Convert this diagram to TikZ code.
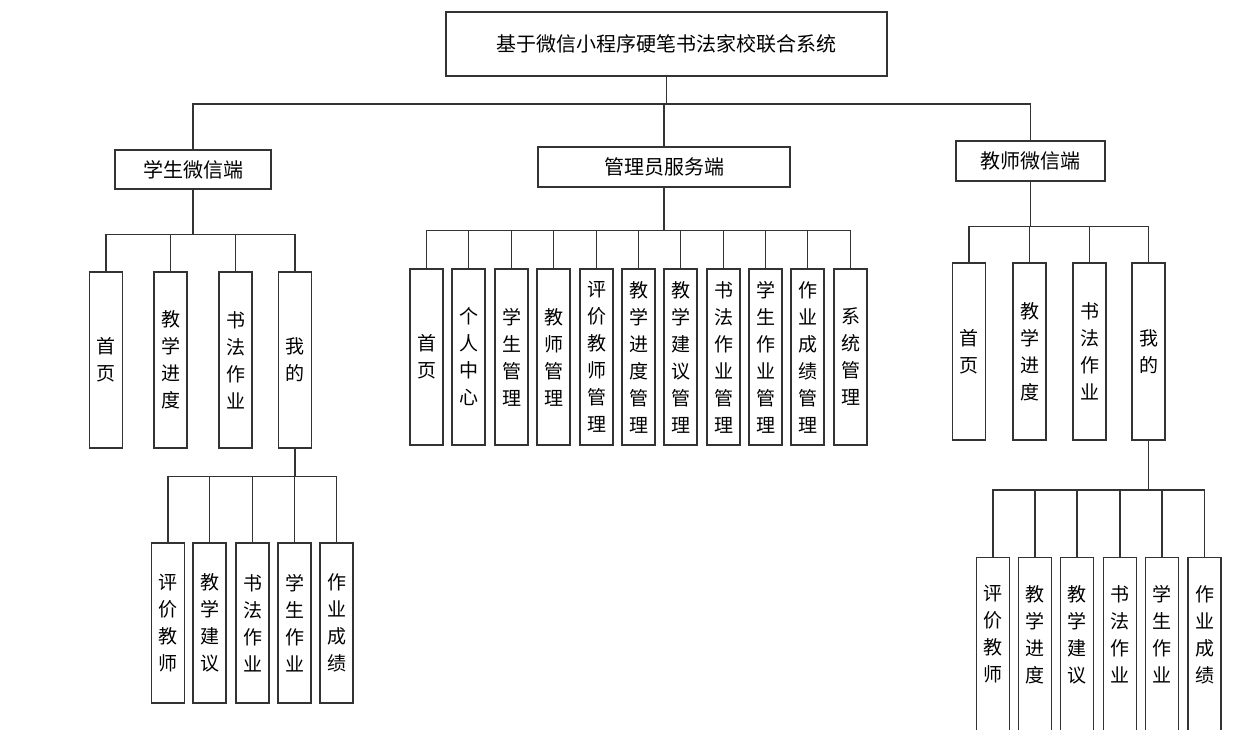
\documentclass[tikz,border=0pt]{standalone}
\usepackage{fontspec}
\setmainfont{Noto Sans CJK SC}
\begin{document}
\begin{tikzpicture}[x=1pt,y=-1pt,
  hbox/.style={draw=black!80,line width=1.1pt,inner sep=0pt,font=\fontsize{20}{24}\selectfont},
  vbox/.style={draw=black!80,line width=1.1pt,inner sep=0pt,minimum width=33pt,align=center,font=\fontsize{19}{27}\selectfont},
  conn/.style={draw=black!80,line width=1.1pt}]
\fill[white] (0,0) rectangle (1234,729);
\clip (0,0) rectangle (1234,729);
\node[hbox,minimum width=441pt,minimum height=64pt] (root) at (666.5,44) {基于微信小程序硬笔书法家校联合系统};
\node[hbox,minimum width=156pt,minimum height=39pt] (stu) at (193,169.5) {学生微信端};
\node[hbox,minimum width=252pt,minimum height=40pt] (adm) at (664,167) {管理员服务端};
\node[hbox,minimum width=149pt,minimum height=40pt] (tea) at (1030.5,161) {教师微信端};
\coordinate (bus) at (0,104);
\foreach \c in {stu,adm,tea} \draw[conn] (root.south) |- (\c.north |- bus) -- (\c.north);
% student
\foreach \n/\x/\t in {s1/106/首\\页, s2/170.5/教\\学\\进\\度, s3/235.5/书\\法\\作\\业, s4/295/我\\的}
  \node[vbox,minimum height=176pt] (\n) at (\x,360) {\t};
\foreach \n in {s1,s2,s3,s4} \draw[conn] (stu.south) |- ([yshift=37]\n.north) -- (\n.north);
\foreach \n/\x/\t in {m1/168/评\\价\\教\\师, m2/209.5/教\\学\\建\\议, m3/252.5/书\\法\\作\\业, m4/294.5/学\\生\\作\\业, m5/336.5/作\\业\\成\\绩}
  \node[vbox,minimum height=160pt] (\n) at (\x,623) {\t};
\foreach \n in {m1,m2,m3,m4,m5} \draw[conn] (s4.south) |- ([yshift=66]\n.north) -- (\n.north);
% admin
\foreach \n/\x/\t in {a1/426.5/首\\页, a2/468.5/个\\人\\中\\心, a3/511.5/学\\生\\管\\理, a4/553.5/教\\师\\管\\理, a5/596.5/评\\价\\教\\师\\管\\理, a6/638.5/教\\学\\进\\度\\管\\理, a7/680.5/教\\学\\建\\议\\管\\理, a8/723.5/书\\法\\作\\业\\管\\理, a9/765.5/学\\生\\作\\业\\管\\理, a10/807.5/作\\业\\成\\绩\\管\\理, a11/850.5/系\\统\\管\\理}
  \node[vbox,minimum height=176pt] (\n) at (\x,357) {\t};
\foreach \n in {a1,a2,a3,a4,a5,a6,a7,a8,a9,a10,a11} \draw[conn] (adm.south) |- ([yshift=38]\n.north) -- (\n.north);
% teacher
\foreach \n/\x/\t in {t1/969/首\\页, t2/1029.5/教\\学\\进\\度, t3/1089.5/书\\法\\作\\业, t4/1148.5/我\\的}
  \node[vbox,minimum height=177pt] (\n) at (\x,351.5) {\t};
\foreach \n in {t1,t2,t3,t4} \draw[conn] (tea.south) |- ([yshift=36]\n.north) -- (\n.north);
\foreach \n/\x/\t in {u1/993/评\\价\\教\\师, u2/1035/教\\学\\进\\度, u3/1077/教\\学\\建\\议, u4/1120/书\\法\\作\\业, u5/1162/学\\生\\作\\业, u6/1204.5/作\\业\\成\\绩}
  \node[vbox,minimum height=206pt,anchor=north,text depth=54pt] (\n) at (\x,557) {\t};
\foreach \n in {u1,u2,u3,u4,u5,u6} \draw[conn] (t4.south) |- ([yshift=67]\n.north) -- (\n.north);
\end{tikzpicture}
\end{document}
